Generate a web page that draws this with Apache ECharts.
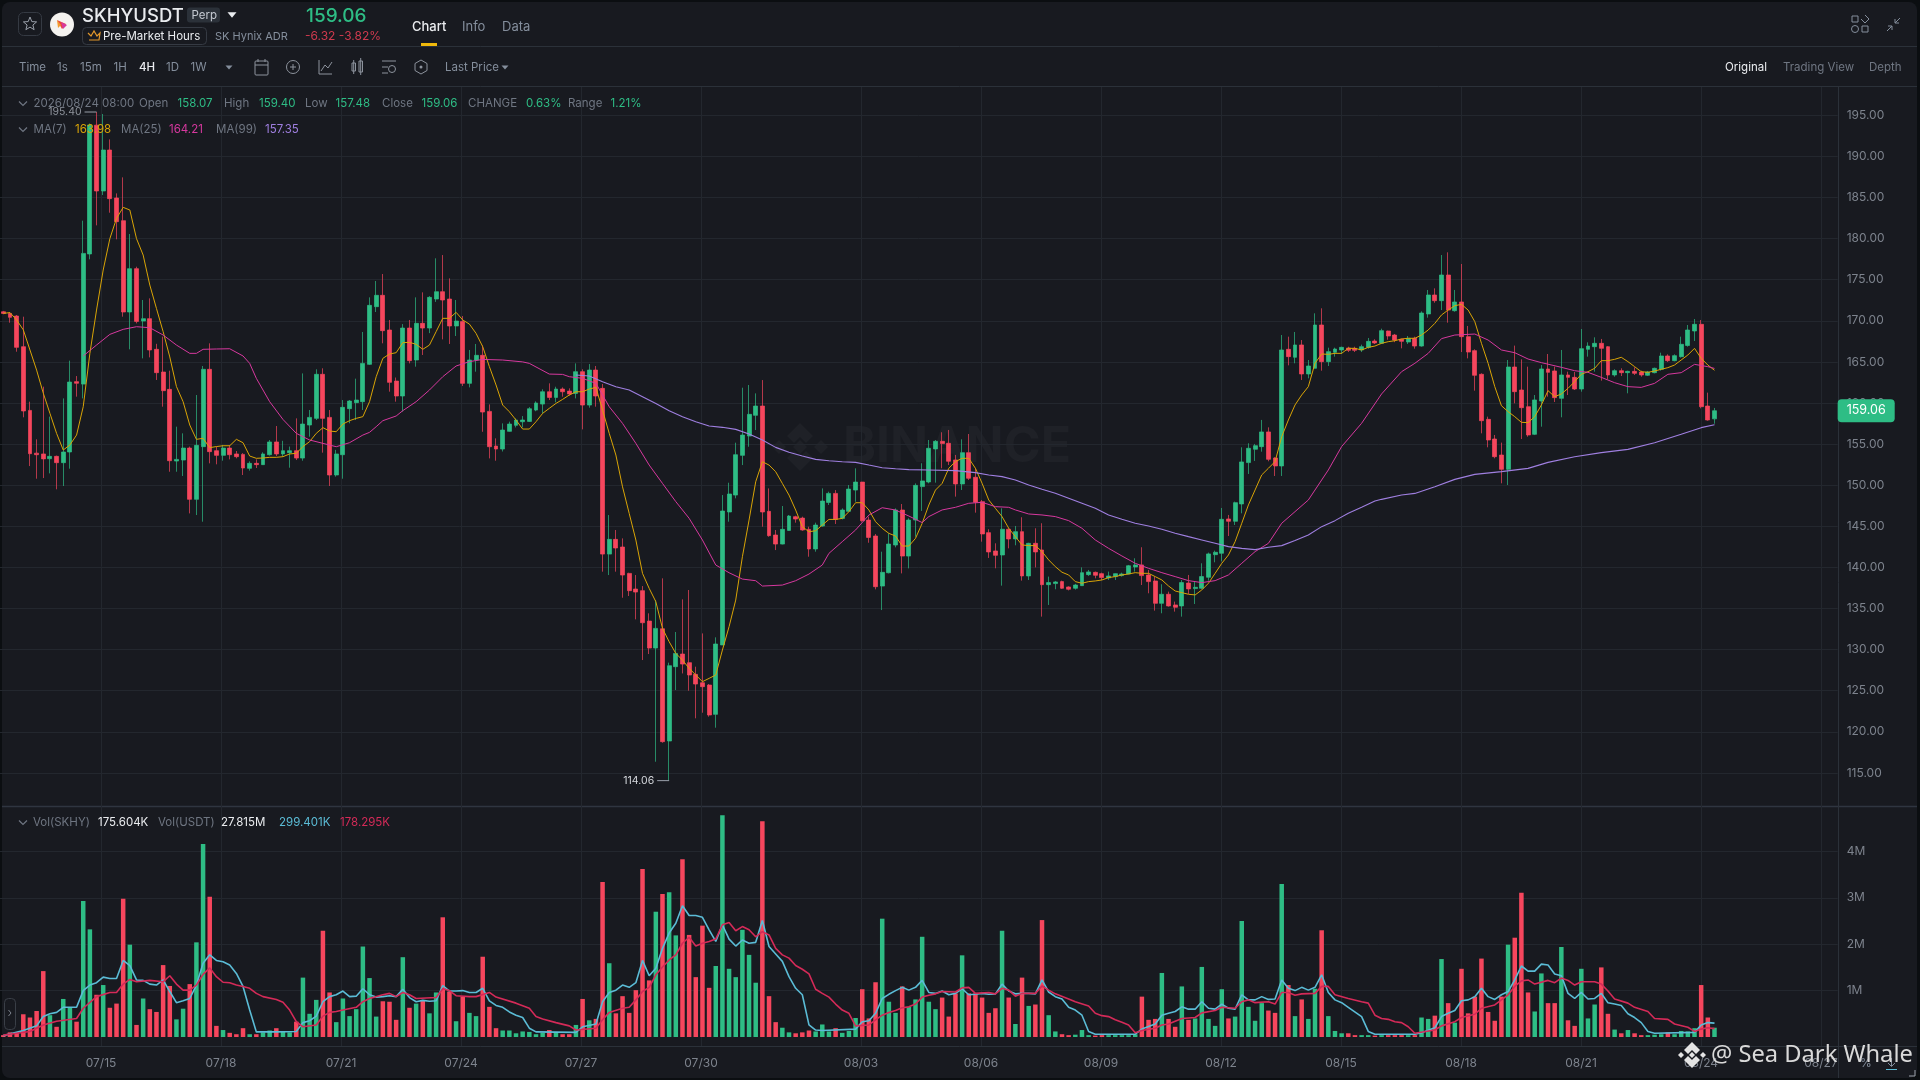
<!DOCTYPE html>
<html><head><meta charset="utf-8"><title>SKHYUSDT</title>
<script src="https://cdn.jsdelivr.net/npm/echarts@6/dist/echarts.min.js"></script>
<style>html,body{margin:0;padding:0;background:#0b0e11;overflow:hidden}#c{width:1920px;height:1080px}</style>
</head><body><div id="c"></div>
<script>
const opens=[171.1,170.9,170.58,166.85,159.1,153.9,153.8,153.22,153.51,152.74,
154.04,162.6,162.3,178.13,193.8,185.79,190.78,184.94,182.18,171.07,
176.34,169.97,170.26,166.53,163.77,161.66,152.94,153.06,154.52,148.28,
154.69,164.1,154.2,153.63,154.52,153.8,153.75,152.05,152.66,152.5,
153.71,155.26,153.8,153.96,154.2,153.3,157.32,158.13,163.49,158.25,
151.24,153.71,159.31,160.04,160.16,164.7,171.72,173.1,168.88,162.67,
160.85,169.12,165.23,169.69,169.12,172.65,173.54,172.65,169.37,169.9,
162.39,165.23,165.8,158.98,154.76,154.4,156.55,157.28,157.72,157.76,
159.14,159.87,161.37,160.68,161.7,161.45,161.17,163.81,159.75,164.01,
161.78,141.62,143.41,142.48,139.27,137.37,137.17,133.47,130.19,132.54,
118.88,127.92,129.46,128.41,126.99,125.97,125.69,122.12,130.56,146.74,
148.8,153.63,155.98,158.5,159.63,146.82,143.94,142.84,144.5,146.17,
146,144.63,142.24,145.03,147.91,149,145.96,146.82,149.41,150.38,
145.76,143.82,137.73,139.35,142.72,146.98,141.38,145.76,149.83,150.39,
154.41,155.34,155.1,153.07,150.15,153.96,150.96,148,144.23,142,
141.51,144.64,143.46,144.35,138.96,142.93,142.12,137.9,138.03,138.27,
137.62,137.46,137.78,139.12,139.4,139.24,138.72,138.88,139,139.2,
140.05,140.3,139.08,138.35,135.63,136.73,135.43,135.31,138.1,137.42,
137.46,138.8,141.55,141.72,145.89,145.61,147.72,152.75,154.37,154.69,
156.48,153.31,152.34,166.53,165.56,167.06,163.53,164.22,169.49,165.03,
166.16,166.45,166.69,166.65,166.45,166.77,167.54,167.26,168.76,168.27,
167.75,167.42,167.87,166.93,170.83,173.14,172.45,175.57,171.23,172.29,
168.07,166.37,163.49,158.01,155.62,153.67,151.93,164.38,161.58,159.55,
156.19,160.24,164.14,163.9,160.57,163.41,163.12,161.7,166.53,166.85,
167.26,166.85,163.41,163.93,163.69,163.85,163.77,163.37,163.69,164.1,
165.72,165.15,165.64,167,168.76,169.57,159.63,158.07];
const closes=[170.9,170.42,166.77,159.03,153.83,153.71,153.2,153.51,152.74,154.04,
162.55,162.4,178.2,193.82,185.79,190.78,184.86,182.06,171.07,176.34,
169.93,170.26,166.45,163.69,161.5,152.98,153.14,154.52,148.28,154.85,
164.1,154.08,153.63,154.52,153.71,153.47,152.09,152.66,152.5,153.8,
155.26,153.8,154.2,154.2,153.3,157.44,158.25,163.49,158.13,151.24,
153.8,159.47,160.24,160.36,164.82,171.88,173.1,168.8,162.51,160.85,
169.12,165.15,169.69,169.12,172.85,173.54,172.53,169.37,169.97,162.39,
165.23,165.8,158.9,154.68,154.4,156.71,157.44,157.93,157.93,159.3,
160,161.37,160.68,161.7,161.37,161.09,163.81,159.75,164.01,160.85,
141.62,143.41,142.36,139.07,137.17,137,133.27,130.19,132.58,118.8,
128.04,129.54,128.24,126.91,125.81,125.49,122.04,130.68,146.86,148.93,
153.71,156.1,158.62,159.63,146.74,143.86,142.84,144.63,146.25,145.88,
144.55,142.24,145.15,148.07,149,145.84,146.98,149.53,150.38,145.68,
143.65,137.65,139.4,142.84,146.98,141.38,145.76,149.98,150.52,154.49,
155.34,155.06,152.91,150.15,153.96,150.84,147.92,144.07,141.88,141.47,
144.64,143.46,144.35,138.96,142.93,141.88,137.9,138.15,138.23,137.46,
137.34,137.86,139.36,139.45,139.04,138.76,138.96,139.24,139.2,140.2,
140.3,139,138.27,135.63,136.73,135.31,135.15,138.15,137.38,137.58,
138.88,141.64,141.84,145.85,145.61,147.88,152.83,154.49,154.81,156.48,
153.15,152.34,166.45,165.64,167.06,163.53,164.5,169.49,165.03,166.25,
166.57,166.77,166.41,166.41,166.85,167.5,167.3,168.8,168.15,167.66,
167.5,167.87,166.93,170.95,173.14,172.45,175.57,171.31,172.29,168.07,
166.2,163.37,157.85,155.5,153.47,151.93,164.38,161.38,159.43,156.11,
160.37,164.14,163.73,160.65,163.41,163.12,161.7,166.61,166.93,167.26,
166.65,163.41,163.93,163.69,163.85,163.61,163.41,163.77,164.22,165.72,
165.15,165.76,167.14,168.88,169.57,159.55,157.93,159.06];
const highs=[171.2,171,170.7,170.5,160.16,155.58,161.99,158.34,153.6,160.56,
165.15,163.28,182.18,194,195.4,195.16,192.07,185.5,187.45,180.56,
176.58,172.53,172.73,167.2,168.07,163.93,157.12,156.31,154.7,160.97,
164.5,167.26,154.7,154.9,154.9,154.16,153.9,152.9,153.14,154,
155.5,157.2,155.4,154.7,158.13,163.6,159.15,164.1,164.22,159.15,
154.3,160.36,160.36,162.96,168.64,172.85,174.84,175.69,170.1,163.1,
169.6,170.1,172.85,173.46,173,177.6,178,175.16,172.53,170.58,
166.45,167.18,167,159.83,155.7,157.52,157.73,158.13,158.41,159.5,
160.2,161.66,162.39,161.98,161.9,161.78,164.82,164.1,164.74,164.5,
162.31,146.37,144.55,143.53,139.35,139.07,137.73,134.41,136.03,138.67,
128.41,132.14,136.11,137.25,127.92,131.97,125.81,131.49,148.8,150.3,
155.17,161.86,162.19,161.17,162.79,149.61,144.55,147.47,146.37,146.29,
146.17,144.95,145.44,149.61,149.21,149.41,147.18,150.02,152.05,150.4,
146.17,144.06,141.91,144.14,147.18,147.71,145.97,150.22,152.67,155.5,
155.5,156.44,156.72,153.68,155.58,156.23,152.06,148.2,144.64,142.93,
147.19,144.76,145.04,146.1,143,144.76,145.37,138.88,138.35,138.39,
137.7,138,140,139.69,139.49,139.36,139.49,139.28,139.36,140.3,
141.11,142.45,139.69,138.88,137.95,137.05,135.84,138.47,139.08,138.27,
140.5,141.8,142.04,147.23,146.38,148,154.61,155.1,155.02,157.94,
157.04,153.4,168.27,168.07,168.64,167.66,165.23,170.91,171.52,166.73,
166.73,166.85,166.85,166.85,167.1,167.91,167.75,169.04,168.8,168.4,
167.83,168.15,168.07,171.15,173.75,173.95,178,178.33,173.75,176.91,
169.37,166.53,163.61,158.34,156.11,155.18,165.23,166.98,165.31,164.42,
160.97,164.62,165.96,164.42,166.45,163.81,163.77,169,167.38,167.99,
167.79,166.93,164.1,164.22,163.93,164.34,163.93,163.9,164.3,166.12,
165.92,165.92,168.07,169.49,170.22,170.1,161.26,159.4];
const lows=[170.8,169.77,166.24,158.26,152.33,150.79,150.87,151.44,149.5,149.9,
152.01,160.77,160.56,177.48,181.61,185.3,183.15,179.91,170.5,166.53,
169.69,165.43,165.55,162.8,159.55,151.64,151.64,151.12,146.57,146.37,
145.56,152.66,152.54,152.98,153.14,153.27,151.24,151.77,152.09,152.46,
153.6,153.55,153.47,152.13,153.06,152.98,155.9,157.93,153.96,149.9,
151.04,150.79,157.53,157.93,159.15,164.62,171.07,167.26,161.38,160.16,
158.94,164.82,164.42,165.84,168.5,172.3,167.74,167.18,168.15,162.07,
161.9,163.81,156.5,153.26,152.98,154.1,156.5,157.03,157.03,157.7,
159,158.74,160.36,160.08,160.77,160.89,160.56,156.79,159.43,159.55,
139.48,139.07,139.48,136.31,136.52,133.68,128.73,129.46,116.36,118.67,
114.06,125.08,127.1,125,121.64,122.32,121.84,120.5,130.56,145.56,
148.4,152.45,154.68,156.71,144.95,143.73,142.11,142.8,144.46,145.44,
144.46,141.3,141.91,144.95,147.59,145.28,145.84,146.78,147.99,145.56,
143,137.33,134.81,139.27,142.44,139.27,139.88,143.73,146.87,150.23,
150.31,152.06,152.46,148.61,149.42,150.64,146.66,143.13,141.15,139.89,
137.78,142.32,142.69,138.39,138.47,140,134.01,135.43,137.34,137.38,
137.2,137.3,137.74,138.96,138.67,138.47,138.47,138.47,138.88,139.16,
139.49,137.86,136.85,134.74,134.42,135.23,134.62,134.01,136.77,135.55,
137.38,138.39,140.62,140.74,143.82,145.16,146.58,151.37,152.95,154.08,
152.91,151.12,151.12,164.58,164.83,162.8,163,164.22,163.93,164.5,
165.64,165.96,166.2,166.2,166.2,166.61,167.18,167.18,167.7,167.4,
166.65,167.18,166.61,166.85,170.38,172.2,171.31,169.77,171.11,166.2,
165.43,161.5,156.31,154.61,153.27,150.23,150.02,159.96,155.62,155.9,
156.1,157.12,160.77,160.12,158.26,160.97,161.58,161.38,165.64,163.81,
162.72,162.88,163.2,163.28,161.18,163.41,163.2,163.28,163.61,163.93,
164.99,165.07,165.52,166.85,167.54,159.35,157.85,157.48];
const ma7=[170.9,171,170.1,168.9,166.45,164,161.2,158.74,156.3,154.28,
154.9,156.1,159.55,166.04,171.31,176.18,180,182.46,183.8,183.48,
180,178,174.35,171.5,168.68,165.6,162,160.16,157.32,155.58,
155.7,154.57,154.7,154.8,154.8,155.58,155.17,153.55,153.27,153.31,
153.39,153.39,153.47,153.8,153.88,154.7,155.3,156.31,157,156.59,
156.51,157.44,157.85,158.13,158.34,160.16,163.2,165.43,165.96,166.12,
167.34,167.38,167.14,166.53,167.05,168.68,170.3,170.3,171.03,170.1,
169.6,168.47,166.85,164.42,162.19,159.75,158.94,157.93,156.83,156.83,
157.72,158.74,159.35,159.95,160.44,160.97,161.37,161.37,161.7,161.9,
159.14,156.31,153.67,149.8,146.57,143.33,139.27,137.45,135.83,132.58,
130.96,129.54,128.73,127.72,126.91,126.1,126.5,126.91,129.95,132.79,
136.03,141.3,145.76,150.42,152.86,152.45,151.64,150.22,148.8,146.98,
144.95,144.34,144.46,145.15,145.84,145.84,145.96,146.78,147.87,147.87,
146.98,145.56,144.75,144.14,143.82,142.6,142.6,143.53,145.36,147.59,
149.41,150.22,152.06,152.87,153.27,153.27,152.06,150.23,148.2,147.19,
146.18,144.76,143.74,142.73,142.65,142.65,141.92,140.91,140.09,139.41,
139.08,138.27,138.07,138.27,138.35,138.47,138.76,138.88,139.08,139.2,
139.36,139.28,139.28,138.88,138.47,137.74,137.13,136.93,136.73,136.65,
137.26,138.07,139.28,140.5,141.51,143.13,145.37,147.6,149.42,151.25,
152.06,152.87,155.9,157.93,159.76,160.97,161.99,164.83,165.96,165.92,
166.04,166.04,166.65,166.65,166.45,166.77,166.93,167.26,167.46,167.58,
167.79,167.87,167.87,168.27,168.88,169.69,170.71,171.31,171.84,172,
171.31,169.9,167.26,164.83,161.99,159.67,158.95,158.34,157.65,157.61,
158.34,159.76,161.5,160.77,161.1,161.78,162.6,163.49,163.81,164.22,
165.15,165.15,165.31,165.56,165.03,164.42,163.81,163.73,163.89,164.1,
164.3,164.62,165.23,165.84,166.65,165.43,164.62,163.98];
const ma25=[[12,165.72],[14,167.05],[16,168.35],[18,168.96],[20,169.28],[22,169.16],[24,168.27],[26,167.05],[28,166.04],[29,166.04],[30,166.53],[32,166.57],[34,166.6],[36,165.72],[37,164.82],[38,163],[40,160.16],[42,158],[44,156.31],[46,155.5],[48,155.09],[50,154.68],[52,155.17],[54,156.1],[55,156.43],[56,157.12],[57,157.85],[59,158.42],[60,159.07],[62,160.16],[64,161.58],[66,163.2],[68,164.5],[70,165.03],[72,165.3],[75,165.23],[78,165],[79,164.82],[82,163.52],[84,163.48],[85,163.2],[87,163],[89,162.39],[91,159.55],[93,157.52],[95,155.09],[97,152.45],[99,150.22],[101,148],[103,145.97],[105,143.33],[107,140.29],[109,139.35],[111,138.58],[113,138.38],[114,137.73],[117,137.85],[119,138.38],[121,139.19],[123,140.29],[124,141.71],[126,143.13],[128,144.55],[130,146.37],[132,147.26],[134,146.98],[136,146.25],[138,145.45],[139,146.18],[141,146.99],[143,147.31],[145,147.8],[147,147.92],[149,147.39],[151,147.31],[152,146.99],[154,146.5],[156,146.38],[158,146.18],[160,145.69],[162,144.76],[164,143.34],[166,142.32],[168,141.39],[170,140.5],[172,139.89],[174,139.36],[176,138.88],[178,138.39],[180,138.15],[182,138.39],[184,139.08],[186,140.5],[188,141.92],[190,142.93],[192,145.37],[196,148.2],[199,151.85],[201,154.7],[204,157.53],[207,161.1],[210,163.81],[212,164.83],[214,166.04],[216,167.83],[218,168.27],[221,168.39],[223,167.66],[225,166.45],[227,166.12],[229,165.35],[231,164.91],[234,164.34],[236,163.93],[238,163.73],[240,163.12],[242,162.47],[244,161.99],[246,161.9],[248,162.39],[250,163.49],[252,163.69],[254,164.7],[256,164.42],[257,164.21]];
const ma99=[[86,163.4],[88,163.28],[90,162.59],[92,161.98],[94,161.58],[96,160.77],[98,159.95],[100,159.06],[102,158.33],[104,157.72],[106,157.2],[108,157.04],[110,156.79],[112,156.22],[114,155.49],[116,154.6],[118,154],[120,153.55],[122,153.14],[124,152.98],[126,152.86],[128,152.78],[130,152.45],[132,152.13],[134,152],[136,151.9],[139,151.85],[143,151.77],[146,151.53],[148,151.25],[150,151.04],[152,150.64],[154,150.03],[156,149.5],[158,149.02],[160,148.41],[162,147.8],[164,147.19],[166,146.38],[168,145.85],[170,145.37],[172,145.04],[174,144.64],[176,144.15],[178,143.74],[180,143.34],[182,142.93],[184,142.53],[186,142.32],[188,142.16],[190,142.45],[192,142.65],[194,143.26],[196,143.95],[198,144.96],[200,145.69],[202,146.58],[204,147.31],[206,148.08],[207,148.28],[210,148.81],[212,149],[215,149.82],[218,150.71],[221,151.32],[225,151.65],[229,152.05],[232,152.78],[236,153.47],[240,153.96],[244,154.36],[248,155.17],[252,156.19],[255,157],[257,157.35]];
const volumes=[.04,.10,.10,.49,.42,.56,1.42,.47,.22,.82,.64,.33,2.93,2.32,.91,1.12,.63,.72,2.98,1.99,.26,.83,.60,.54,1.55,1.10,.38,.61,1.14,2.04,4.16,3.02,.24,.15,.09,.06,.19,.06,.06,.10,.14,.19,.12,.10,.33,1.28,.50,.80,2.29,.96,.32,.83,.45,.60,1.95,1.27,.44,.77,.76,.37,1.72,.63,.72,.79,.51,.96,2.58,.98,.34,.87,.52,.45,1.73,.65,.19,.14,.14,.08,.12,.11,.06,.09,.15,.09,.06,.06,.26,.82,.36,.39,3.34,1.59,.51,.88,.52,1.01,3.62,
1.22,2.70,3.08,3.12,2.19,3.83,2.20,1.29,2.40,1.06,1.53,4.78,1.47,1.29,2.31,1.77,1.17,4.65,.88,.32,.20,.10,.08,.10,.14,.12,.27,.12,.19,.09,.13,.41,1.03,.40,1.18,2.55,.76,.52,1.09,.65,.81,2.16,.76,.60,.85,.44,.94,1.76,.94,.94,.85,.52,.62,2.29,.85,.28,1.28,.67,.70,2.52,.47,.12,.06,.04,.05,.15,.04,.03,.04,.04,.04,.04,.04,.06,.87,.37,.39,1.38,.39,.22,1.09,.37,.40,1.51,.39,.24,1.03,.40,.44,2.50,.65,.35,.73,.57,.52,3.30,
1.12,.45,.81,.39,1.04,2.30,.45,.13,.08,.08,.04,.04,.04,.03,.04,.04,.04,.04,.04,.04,.42,.39,.46,1.68,.73,.31,1.47,.51,.87,1.69,.54,.35,.87,1.99,2.14,3.11,.96,.55,1.37,.73,.73,1.94,.36,.24,1.47,.40,.70,1.50,.50,.16,.08,.15,.08,.04,.04,.05,.06,.10,.06,.13,.12,.19,1.12,.42,.20];
const volMaShort=[[0,.03],[3,.14],[5,.24],[6,.44],[7,.50],[8,.53],[9,.64],[11,.64],[12,1.0],[13,1.12],[14,1.17],[15,1.29],[16,1.26],[17,1.26],[18,1.65],[19,1.54],[20,1.23],[21,1.22],[22,1.14],[23,1.12],[24,1.23],[25,.98],[26,.74],[27,.78],[28,.83],[29,1.12],[30,1.59],[31,1.77],[32,1.65],[33,1.62],[34,1.55],[35,1.37],[36,1.09],[37,.58],[38,.11],[41,.11],[44,.12],[45,.31],[46,.35],[47,.45],[48,.76],[49,.87],[50,.91],[51,.99],[52,.87],[53,.88],[54,1.04],[55,.91],[56,.86],[57,.87],[58,.89],[59,.87],[60,1.03],[61,.85],[62,.76],[63,.79],[64,.77],[65,.78],[66,1.11],[67,.99],[68,.99],[69,1.0],[70,.96],[71,.96],[72,1.05],[73,.78],[74,.68],[75,.64],[76,.54],[77,.47],[78,.42],[79,.19],[80,.11],[86,.10],[87,.22],[89,.28],[90,.76],[91,.96],[92,1.01],[93,1.12],[94,1.07],[95,1.17],
[96,1.65],[97,1.32],[98,1.48],[99,1.91],[100,2.24],[101,2.45],[102,2.83],[103,2.62],[104,2.62],[105,2.58],[106,2.31],[107,2.06],[108,2.42],[109,2.11],[110,1.96],[111,2.09],[112,2.02],[113,2.04],[114,2.51],[115,1.95],[116,1.79],[117,1.63],[118,1.30],[119,1.05],[120,.91],[121,.26],[122,.15],[123,.14],[128,.17],[129,.33],[130,.35],[131,.51],[132,.83],[133,.92],[134,1.0],[135,1.07],[136,1.01],[137,1.07],[138,1.22],[139,.96],[140,.94],[141,.99],[142,.91],[143,.94],[144,1.04],[145,.91],[146,.92],[147,.94],[148,.92],[149,.93],[150,1.14],[151,.99],[152,.93],[153,.94],[154,.94],[155,.93],[156,1.23],[157,.97],[158,.87],[159,.82],[160,.64],[161,.58],[162,.47],[163,.12],[164,.06],[170,.06],[171,.17],[173,.28],[174,.47],[175,.51],[176,.55],[177,.65],[178,.60],[179,.60],[180,.76],[181,.62],[182,.60],[183,.71],[184,.62],[185,.60],[186,.91],[187,.80],[188,.80],[189,.87],[190,.81],[191,.82],
[192,1.23],[193,1.05],[194,1.0],[195,1.07],[196,1.01],[197,1.07],[198,1.34],[199,.96],[200,.8],[201,.74],[202,.64],[204,.44],[205,.12],[206,.06],[212,.06],[213,.09],[215,.2],[216,.44],[217,.51],[218,.57],[219,.78],[220,.8],[221,.87],[222,1.05],[223,.87],[224,.81],[225,.91],[226,.98],[227,1.23],[228,1.53],[229,1.42],[230,1.42],[231,1.57],[232,1.55],[233,1.36],[234,1.32],[235,.94],[236,.83],[237,.96],[238,.82],[239,.83],[240,.94],[241,.74],[242,.71],[243,.68],[244,.5],[245,.42],[246,.31],[247,.12],[248,.08],[254,.10],[255,.26],[256,.31],[257,.30]];
const volMaLong=[[0,.04],[2,.08],[4,.12],[6,.26],[8,.34],[11,.40],[12,.62],[14,.87],[16,.96],[17,.96],[18,1.14],[19,1.24],[20,1.19],[22,1.22],[24,1.19],[25,1.32],[26,1.14],[27,1.01],[28,1.01],[29,1.12],[30,1.35],[31,1.49],[32,1.3],[33,1.18],[34,1.17],[35,1.12],[36,1.09],[37,1.05],[38,.94],[39,.87],[41,.81],[42,.75],[43,.58],[44,.33],[45,.22],[47,.26],[48,.45],[49,.53],[50,.55],[51,.58],[53,.64],[54,.76],[55,.83],[57,.91],[58,.94],[59,.87],[60,.96],[61,.91],[62,.83],[65,.85],[66,1.04],[67,1.0],[68,.89],[70,.87],[71,.87],[73,.96],[74,.86],[77,.73],[79,.62],[80,.44],[81,.39],[83,.31],[85,.24],[86,.15],[89,.19],[90,.37],[91,.53],[93,.62],[94,.64],[95,.8],
[96,.98],[97,1.07],[98,1.34],[99,1.51],[100,1.66],[101,1.77],[102,2.02],[103,2.15],[104,1.96],[105,2.02],[106,2.06],[107,2.11],[108,2.42],[109,2.47],[110,2.29],[111,2.38],[112,2.31],[113,2.16],[114,2.27],[115,2.2],[116,1.91],[117,1.77],[118,1.7],[119,1.54],[120,1.46],[121,1.36],[122,1.03],[123,.94],[124,.86],[125,.71],[126,.58],[127,.51],[128,.24],[130,.26],[131,.37],[132,.47],[133,.53],[134,.57],[135,.63],[136,.65],[137,.71],[138,.86],[139,.9],[140,.93],[141,.98],[143,.97],[144,1.06],[145,1.07],[146,.94],[148,.96],[149,.93],[150,1.05],[151,1.01],[152,.88],[153,.94],[155,.94],[156,1.1],[157,1.01],[158,.93],[160,.82],[161,.76],[163,.67],[164,.51],[165,.46],[166,.44],[167,.37],[168,.32],[169,.26],[170,.09],[171,.14],[173,.19],[174,.26],[175,.28],[177,.4],[179,.42],[180,.52],[182,.57],[183,.64],[185,.62],[186,.76],[187,.8],[188,.74],[190,.76],[191,.71],
[192,.96],[193,.96],[194,.9],[195,.93],[197,.94],[198,1.09],[199,1.09],[200,.91],[202,.83],[204,.76],[205,.73],[206,.47],[207,.4],[208,.38],[209,.33],[210,.31],[211,.22],[212,.08],[215,.15],[216,.24],[218,.33],[219,.42],[221,.49],[222,.62],[224,.69],[225,.8],[226,.91],[227,1.09],[228,1.21],[229,1.23],[230,1.14],[232,1.22],[233,1.17],[234,1.27],[235,1.22],[236,1.12],[237,1.19],[239,1.19],[240,1.14],[241,.99],[242,.82],[244,.73],[245,.64],[247,.55],[248,.4],[250,.38],[251,.28],[253,.21],[254,.12],[255,.17],[256,.2],[257,.18]];
const tickLabels=['07/15','07/18','07/21','07/24','07/27','07/30','08/03','08/06','08/09','08/12','08/15','08/18','08/21','08/24','08/27'];
const lastPrice=159.06, highMark=[14,195.40], lowMark=[100,114.06];
const GREEN='#2ebd85',RED='#f6465d',GRID='#23272e',LINE='#2b3139',MUTED='#848e9c',DIM='#6f7682',WHITE='#eaecef';
const YEL='#d9a406',PINK='#d6389e',PUR='#9f7fe0',CYAN='#5bbcd6',CRIM='#d42a58';

// 4-hour categories starting 07/12 12:00, continuing past the last candle
const categories=[];
for(let i=0;i<276;i++){const d=new Date(Date.UTC(2026,6,12,12+4*i));
  const p=n=>String(n).padStart(2,'0');
  categories.push(p(d.getUTCMonth()+1)+'/'+p(d.getUTCDate())+' '+p(d.getUTCHours())+':00');}
const isTick=(i,v)=>v.endsWith(' 00:00')&&tickLabels.includes(v.slice(0,5));

const FONT='Inter, Roboto, sans-serif';
const g=[];
const T=(x,y,text,fill,size,weight,extra)=>g.push(Object.assign({type:'text',z:20,silent:true,style:{x,y,text,fill,font:(weight||400)+' '+(size||11)+'px '+FONT,align:'left',verticalAlign:'middle'}},extra||{}));
const L=(x1,y1,x2,y2,stroke,w,z)=>g.push({type:'line',z:z==null?20:z,silent:true,shape:{x1,y1,x2,y2},style:{stroke,lineWidth:w||1,fill:null}});
const R=(x,y,w,h,opt)=>g.push({type:'rect',z:opt.z==null?20:opt.z,silent:true,shape:{x,y,width:w,height:h,r:opt.r||0},style:{fill:opt.fill||null,stroke:opt.stroke||null,lineWidth:opt.lw||1}});
const C=(cx,cy,r,opt)=>g.push({type:'circle',z:20,silent:true,shape:{cx,cy,r},style:{fill:opt.fill||null,stroke:opt.stroke||null,lineWidth:opt.lw||1}});
const P=(points,opt)=>g.push({type:opt.fill?'polygon':'polyline',z:opt.z==null?20:opt.z,silent:true,shape:{points},style:{fill:opt.fill||null,stroke:opt.stroke||null,lineWidth:opt.lw||1}});
const chev=(x,y)=>P([[x-4,y-2],[x,y+2],[x+4,y-2]],{stroke:'#6f7682',lw:1.2});
const tri=(x,y,s,c)=>P([[x-s,y-s*.6],[x+s,y-s*.6],[x,y+s*.6]],{fill:c});

// panel
R(2,2,1915,1076,{fill:'#181a20',r:8,z:-10});
L(2,46.5,1917,46.5,LINE,1,-5);L(2,86.5,1917,86.5,LINE,1,-5);L(2,806.5,1917,806.5,'#2f3540',1.5,-5);L(2,1046.5,1917,1046.5,LINE,1,-5);L(1838.5,87,1838.5,1078,LINE,1,-5);
// BINANCE watermark
const wm='#1f2127';
P([[800,423],[813,436],[806,443],[800,437],[794,443],[787,436]],{fill:wm,z:-4});
P([[800,447-7],[807,447],[800,454],[793,447]],{fill:wm,z:-4});
P([[779,440],[786,447],[779,454],[772,447]],{fill:wm,z:-4});P([[821,440],[828,447],[821,454],[814,447]],{fill:wm,z:-4});
P([[800,471],[813,458],[806,451],[800,457],[794,451],[787,458]],{fill:wm,z:-4});
g.push({type:'text',z:-4,silent:true,style:{x:843,y:447,text:'BINANCE',fill:wm,font:'700 50px '+FONT,align:'left',verticalAlign:'middle'}});

// header
R(18.5,12.5,23,23,{stroke:'#353a43',r:5});
P([[30,17],[31.8,21.6],[36.6,21.9],[32.9,25],[34.1,29.7],[30,27.1],[25.9,29.7],[27.1,25],[23.4,21.9],[28.2,21.6],[30,17]],{stroke:'#9aa0aa',lw:1});
C(62,24.5,12,{fill:'#f5f3f0'});P([[57,20],[66,24],[62,29]],{fill:'#e8453c'});P([[57,20],[61,25],[58,28]],{fill:'#f39a2e'});P([[61,22],[67,25],[63,29]],{fill:'#d6389e'});
T(82,16,'SKHYUSDT',WHITE,18.5,500);
R(187,7.5,33,15,{fill:'#2b3139',r:3});T(191.5,15.5,'Perp','#c4c9d1',11.5);
tri(232,15,4.5,'#eaecef');
R(82.5,27.5,124,17,{stroke:'#353a43',r:4});
P([[88,33],[91,36],[94,31],[97,36],[100,33],[99,40],[89,40]],{stroke:'#e0962a',lw:1.2});
T(103,36.5,'Pre-Market Hours',WHITE,11.5);
T(215,36.5,'SK Hynix ADR',MUTED,11);
T(306,16,'159.06',GREEN,19,500);
T(305,36.5,'-6.32 -3.82%','#cf3a4e',12);
T(412,27,'Chart',WHITE,13,500);R(421,43,16,3,{fill:'#f0b90b'});
T(462,27,'Info',MUTED,13);T(502,27,'Data',MUTED,13);
// top-right icons
R(1852,16,6,6,{stroke:MUTED});R(1862,26,6,6,{stroke:MUTED});C(1855,29,3.5,{stroke:MUTED});P([[1865,15],[1869,19],[1865,23],[1861,19]],{stroke:MUTED});
L(1887,31,1892,26,MUTED);P([[1888,26],[1892,26],[1892,30]],{stroke:MUTED});L(1895,23,1900,18,MUTED);P([[1895,19],[1895,23],[1899,23]],{stroke:MUTED});
// toolbar
const TB=67.5;
T(19,TB,'Time',MUTED,11.5);T(57,TB,'1s',MUTED,11.5);T(80,TB,'15m',MUTED,11.5);T(113.5,TB,'1H',MUTED,11.5);T(139,TB,'4H',WHITE,11.5,500);T(166,TB,'1D',MUTED,11.5);T(190.5,TB,'1W',MUTED,11.5);
tri(229,TB,3.5,MUTED);
R(255,61,13,14,{stroke:'#8d939d',r:1});L(255,65,268,65,'#8d939d');L(258,59,258,62,'#8d939d');L(265,59,265,62,'#8d939d');
C(293,67,6.5,{stroke:'#8d939d'});L(290,67,296,67,'#8d939d');L(293,64,293,70,'#8d939d');
P([[319,60],[319,74],[332,74]],{stroke:'#8d939d'});P([[321,71],[325,65],[328,68],[332,62]],{stroke:'#8d939d'});
R(352,63,3.5,8,{stroke:'#8d939d'});L(353.7,60,353.7,74,'#8d939d');R(359,61,3.5,11,{stroke:'#8d939d'});L(360.7,58,360.7,75,'#8d939d');
L(382,61,396,61,'#8d939d');L(382,67,388,67,'#8d939d');L(382,73,388,73,'#8d939d');C(392,69,3.5,{stroke:'#8d939d'});
P([[421,60],[427,63.5],[427,70.5],[421,74],[415,70.5],[415,63.5],[421,60]],{stroke:'#8d939d'});C(421,67,1.5,{fill:'#8d939d'});
T(445,TB,'Last Price',MUTED,11.5);tri(505,TB,3.5,MUTED);
T(1725,TB,'Original',WHITE,11.5);T(1783,TB,'Trading View',DIM,11.5);T(1869,TB,'Depth',DIM,11.5);
// info rows
const I1=103.5,I2=129.5,I3=822.5,FS=11.5;
chev(23,I1);T(33.5,I1,'2026/08/24 08:00',DIM,FS);T(139,I1,'Open',DIM,FS);T(177.5,I1,'158.07',GREEN,FS);T(224,I1,'High',DIM,FS);T(259,I1,'159.40',GREEN,FS);T(305,I1,'Low',DIM,FS);T(335.5,I1,'157.48',GREEN,FS);T(382,I1,'Close',DIM,FS);T(421.5,I1,'159.06',GREEN,FS);T(468,I1,'CHANGE',DIM,FS);T(526,I1,'0.63%',GREEN,FS);T(568,I1,'Range',DIM,FS);T(610.5,I1,'1.21%',GREEN,FS);
chev(23,I2);T(33.5,I2,'MA(7)',DIM,FS);T(75,I2,'163.98',YEL,FS);T(121,I2,'MA(25)',DIM,FS);T(169,I2,'164.21',PINK,FS);T(216,I2,'MA(99)',DIM,FS);T(265,I2,'157.35',PUR,FS);
chev(23,I3);T(33,I3,'Vol(SKHY)',DIM,FS);T(98,I3,'175.604K',WHITE,FS);T(158,I3,'Vol(USDT)',DIM,FS);T(221,I3,'27.815M',WHITE,FS);T(279,I3,'299.401K',CYAN,FS);T(340,I3,'178.295K',CRIM,FS);
// bottom extras
R(4.5,998.5,11,31,{fill:'#181a20',stroke:'#3a3f47',r:4});P([[8.5,1010],[11,1013],[8.5,1016]],{stroke:'#7d838d'});
T(1860,1063,'%',MUTED,12);
L(1886,1069.5,1897,1069.5,CYAN);P([[1891.5,1058],[1891.5,1066]],{stroke:MUTED});P([[1888,1063],[1891.5,1066.5],[1895,1063]],{stroke:MUTED});
P([[1909,1076],[1915,1076],[1915,1070]],{stroke:'#9aa0aa'});
// image watermark
P([[1692,1042],[1700,1050],[1696,1054],[1692,1050],[1688,1054],[1684,1050]],{fill:'#e4e4e4'});
P([[1692,1052],[1695,1055],[1692,1058],[1689,1055]],{fill:'#e4e4e4'});
P([[1681,1052],[1684,1055],[1681,1058],[1678,1055]],{fill:'#e4e4e4'});
P([[1703,1052],[1706,1055],[1703,1058],[1700,1055]],{fill:'#e4e4e4'});
P([[1692,1068],[1700,1060],[1696,1056],[1692,1060],[1688,1056],[1684,1060]],{fill:'#e4e4e4'});
g.push({type:'text',z:21,silent:true,style:{x:1711,y:1055,text:'@ Sea Dark Whale',fill:'#d9d9d9',font:'400 23.7px "Noto Sans", sans-serif',align:'left',verticalAlign:'middle',shadowColor:'rgba(0,0,0,0.9)',shadowBlur:3,shadowOffsetX:1,shadowOffsetY:1}});

const candles=opens.map((o,i)=>[o,closes[i],lows[i],highs[i]]);
const volData=volumes.map((v,i)=>({value:v,itemStyle:{color:closes[i]>=opens[i]?GREEN:RED}}));
const GL=-2.33,GW=1840;
const axisText={color:'#7d838d',fontSize:12,fontFamily:FONT};
const lineS=(name,data,x,y,color,w)=>({name,type:'line',xAxisIndex:x,yAxisIndex:y,data,showSymbol:false,symbol:'none',silent:true,animation:false,lineStyle:{color,width:w},z:4,clip:false});
const extreme=(coord,txt,col)=>({coord,value:txt,symbol:'rect',symbolSize:[12,1],symbolOffset:[-6,0],itemStyle:{color:'#9aa0aa'},label:{show:true,position:'left',distance:3,formatter:txt,color:col,fontSize:10.5,fontFamily:FONT}});

const chart=echarts.init(document.getElementById('c'),null,{renderer:'canvas',width:1920,height:1080});
chart.setOption({
  animation:false,backgroundColor:'#0b0e11',graphic:{elements:g},
  grid:[{left:GL,width:GW,top:74.2,height:739.8},{left:GL,width:GW,top:805,height:232},{left:1,width:275*20/3,top:87,height:959}],
  xAxis:[
    {type:'category',gridIndex:0,data:categories,show:false},
    {type:'category',gridIndex:1,data:categories,show:false},
    {type:'category',gridIndex:2,data:categories,boundaryGap:false,axisLine:{show:false},axisTick:{show:false},
     splitLine:{show:true,interval:isTick,lineStyle:{color:GRID,width:1}},
     axisLabel:Object.assign({interval:isTick,formatter:v=>v.slice(0,5),margin:11,hideOverlap:false},axisText)}
  ],
  yAxis:[
    {type:'value',gridIndex:0,position:'right',min:110,max:200,interval:5,axisLine:{show:false},axisTick:{show:false},
     splitLine:{show:true,showMinLine:false,showMaxLine:false,lineStyle:{color:GRID,width:1}},
     axisLabel:Object.assign({formatter:v=>v.toFixed(2),margin:9,showMinLabel:false,showMaxLabel:false},axisText)},
    {type:'value',gridIndex:1,position:'right',min:0,max:5,interval:1,axisLine:{show:false},axisTick:{show:false},
     splitLine:{show:true,showMinLine:false,showMaxLine:false,lineStyle:{color:GRID,width:1}},
     axisLabel:Object.assign({formatter:v=>v+'M',margin:9,showMinLabel:false,showMaxLabel:false},axisText)},
    {type:'value',gridIndex:2,show:false,min:0,max:1,splitLine:{show:false}}
  ],
  series:[
    {name:'SKHYUSDT',type:'candlestick',xAxisIndex:0,yAxisIndex:0,data:candles,barWidth:4.4,animation:false,silent:true,z:3,
     itemStyle:{color:GREEN,color0:RED,borderColor:GREEN,borderColor0:RED,borderWidth:0.7},
     markPoint:{silent:true,animation:false,data:[extreme(highMark,highMark[1].toFixed(2),'#8f949c'),extreme(lowMark,lowMark[1].toFixed(2),'#d5d8dd')]},
     markLine:{silent:true,animation:false,symbol:'none',lineStyle:{color:'rgba(0,0,0,0)',width:0},
       data:[{yAxis:lastPrice,label:{show:true,position:'end',distance:0,formatter:lastPrice.toFixed(2),color:'#fff',backgroundColor:GREEN,borderRadius:4,padding:[5,9,5,9],fontSize:12.5,fontFamily:FONT}}]}},
    lineS('MA(7)',ma7,0,0,YEL,1),lineS('MA(25)',ma25,0,0,PINK,1),lineS('MA(99)',ma99,0,0,PUR,1.1),
    {name:'Vol',type:'bar',xAxisIndex:1,yAxisIndex:1,data:volData,barWidth:4.5,animation:false,silent:true,z:3},
    lineS('VolMA short',volMaShort,1,1,CYAN,1.6),lineS('VolMA long',volMaLong,1,1,CRIM,1.6)
  ]
});
</script></body></html>
